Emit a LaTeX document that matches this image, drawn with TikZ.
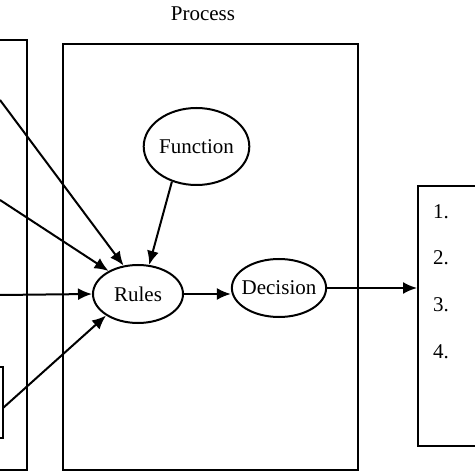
\documentclass[tikz,border=0pt]{standalone}
\usepackage{fontspec}
\setmainfont{Liberation Serif}
\usetikzlibrary{arrows.meta,positioning,shapes.geometric}

\begin{document}
\begin{tikzpicture}[x=0.5pt, y=-0.5pt, line width=1pt, >={Latex[length=7pt,width=6pt]}]
\useasboundingbox (0,0) rectangle (474,474);
\tikzstyle{every node} = [ellipse, draw=black, inner sep=0pt, font=\fontsize{10.5}{12}\selectfont]
\node[minimum width=49.5pt, minimum height=38.5pt] (1) at (196.5,146.5) {Function};
\node[minimum width=45pt, minimum height=29pt] (2) at (138,294) {Rules};
\node[minimum width=46pt, minimum height=29pt, inner xsep=-2pt] (3) at (279,288) {Decision};
\tikzstyle{every node} = [font=\fontsize{10.5}{12}\selectfont]
% boxes
\draw (-10,40) rectangle (27,470);
\draw (-10,367) rectangle (3,438);
\draw (63,44) rectangle (358,470);
\node at (203,14) {Process};
\node[draw, rectangle, minimum width=40pt, minimum height=130pt, anchor=north west] (4) at (417,185) {};
\node at (441,212) {1.};
\node at (441,258) {2.};
\node at (441,305) {3.};
\node at (441,352) {4.};
% loose ends on the left
\coordinate (a) at (0,100);
\coordinate (b) at (0,200);
\coordinate (c) at (0,295);
\coordinate (d) at (3,408);
\draw[->] (a) -- (2.117);
\draw[->] (b) -- (2.142);
\draw[->] (c) -- (2.west);
\draw[->] (d) -- (2.214);
\draw[->] (1.235) -- (2.69);
\draw[->] (2.east) -- (3.west |- 2.east);
\draw[->] (3.east) -- (3.east -| 4.west);
\end{tikzpicture}
\end{document}
